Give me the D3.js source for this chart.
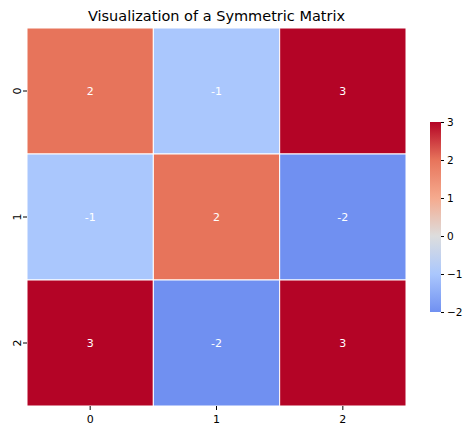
<!DOCTYPE html><html><head><script src="https://cdn.jsdelivr.net/npm/d3@7"></script>
<style>body{margin:0;background:#fff}text{font-family:"DejaVu Sans",sans-serif}</style></head><body>
<svg id="c" width="474" height="433"></svg>
<script>
const rows=["0","1","2"];
const cols=["0","1","2"];
const values=[[2,-1,3],[-1,2,-2],[3,-2,3]];
const cbTicks=[-2,-1,0,1,2,3];
const title="Visualization of a Symmetric Matrix";
const svg=d3.select("#c");
const L=27,T=28,W=379,H=378;
const x=d3.scaleBand().domain(cols).range([L,L+W]);
const y=d3.scaleBand().domain(rows).range([T,T+H]);
const cw=d3.piecewise(d3.interpolateRgb,["rgb(59,76,192)","rgb(112,144,241)","rgb(170,199,253)","rgb(221,221,221)","rgb(245,170,142)","rgb(231,116,91)","rgb(180,4,38)"]);
const col=d3.scaleLinear().domain([-3,3]).range([0,1]);
const color=v=>cw(col(v));
const cells=[];values.forEach((r,i)=>r.forEach((v,j)=>cells.push({i,j,v})));
svg.selectAll("rect.c").data(cells).enter().append("rect")
 .attr("x",d=>x(cols[d.j])).attr("y",d=>y(rows[d.i])).attr("width",x.bandwidth()).attr("height",y.bandwidth())
 .attr("fill",d=>color(d.v)).attr("stroke","#fff").attr("stroke-width",1);
svg.selectAll("text.v").data(cells).enter().append("text")
 .attr("x",d=>x(cols[d.j])+x.bandwidth()/2).attr("y",d=>y(rows[d.i])+y.bandwidth()/2).attr("dy","0.35em")
 .attr("text-anchor","middle").attr("font-size",11).attr("fill","#fff").text(d=>d.v);
const xa=svg.append("g").attr("transform",`translate(0,${T+H})`).call(d3.axisBottom(x).tickSizeOuter(0).tickSize(4));
xa.select(".domain").remove();xa.selectAll("text").attr("font-size",11).attr("dy","0.9em");
const ya=svg.append("g").attr("transform",`translate(${L},0)`).call(d3.axisLeft(y).tickSizeOuter(0).tickSize(4));
ya.select(".domain").remove();
ya.selectAll("text").attr("font-size",11).attr("transform",function(){const yy=d3.select(this.parentNode).attr("transform");return null;});
ya.selectAll(".tick text").attr("x",-10).attr("dy",0).attr("text-anchor","middle").attr("transform","rotate(-90,-10,0) translate(0,4)");
svg.append("text").attr("x",L+W/2).attr("y",21).attr("text-anchor","middle").attr("font-size",14.5).text(title);
// colorbar
const cx=430,cbw=11,cy0=122,cy1=312;
const cs=d3.scaleLinear().domain([-2,3]).range([cy1,cy0]);
const defs=svg.append("defs").append("linearGradient").attr("id","g").attr("x1",0).attr("x2",0).attr("y1",1).attr("y2",0);
d3.range(0,1.0001,0.05).forEach(t=>defs.append("stop").attr("offset",t).attr("stop-color",color(-2+5*t)));
svg.append("rect").attr("x",cx).attr("y",cy0).attr("width",cbw).attr("height",cy1-cy0).attr("fill","url(#g)");
const ca=svg.append("g").attr("transform",`translate(${cx+cbw},0)`).call(d3.axisRight(cs).tickValues(cbTicks).tickSize(3).tickFormat(d=>d<0?"\u2212"+(-d):d));
ca.select(".domain").remove();ca.selectAll("text").attr("font-size",10.5);
</script></body></html>
